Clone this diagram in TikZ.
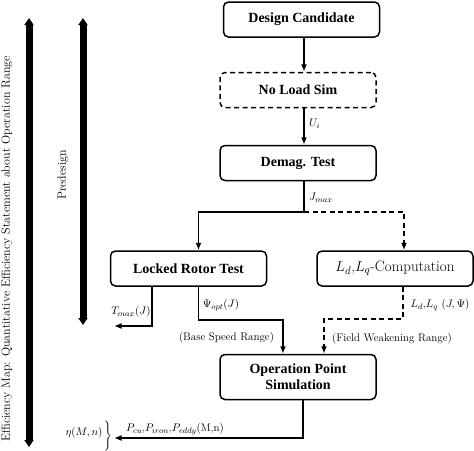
\documentclass[tikz,border=0pt]{standalone}
\usepackage{fontspec}
\newfontfamily\boxfont{Liberation Serif}
\usetikzlibrary{arrows.meta}
\tikzset{
  box/.style={draw, line width=1.5pt, rounded corners=5pt, minimum width=156pt, minimum height=35pt, inner sep=0pt, font=\boxfont\bfseries\fontsize{14}{16}\selectfont, align=center},
  dbox/.style={box, dash pattern=on 5pt off 3.5pt},
  arr/.style={line width=1.5pt, -{Latex[length=7.5pt,width=6pt]}},
  con/.style={line width=1.5pt},
  dcon/.style={line width=1.5pt, dash pattern=on 5pt off 3.5pt},
  lab/.style={font=\fontsize{11}{13}\selectfont, inner sep=0pt},
  bigarr/.style={line width=7pt, {Triangle[width=9pt,length=7pt]}-{Triangle[width=9pt,length=7pt]}},
  side/.style={font=\fontsize{12}{14}\selectfont, rotate=90, inner sep=0pt}
}
\begin{document}
\begin{tikzpicture}[x=1pt,y=-1pt]
\useasboundingbox (0,0) rectangle (474,450);
% boxes
\node[box] (dc) at (301.5,19.5) {Design Candidate};
\node[dbox] (nls) at (298,90) {No Load Sim};
\node[box] (dt) at (298,163) {Demag. Test};
\node[box] (lrt) at (188.5,268.5) {Locked Rotor Test};
\node[box, font=\fontsize{15}{17}\selectfont] (ldq) at (395,268.5) {$L_d$,$L_q$-Computation};
\node[box, minimum height=45pt] (ops) at (298,377) {Operation Point\\Simulation};
% helper coordinates
\coordinate (xm) at (304,0);
\coordinate (split) at (304,212);
\coordinate (xl) at (198.5,0);
\coordinate (xr) at (404,0);
\coordinate (tk) at (152,326);
\coordinate (tend) at (114,326);
\coordinate (pk1) at (198.5,320);
\coordinate (pk2) at (283,320);
\coordinate (dk1) at (403,319);
\coordinate (dk2) at (324,319);
\coordinate (ok) at (303,438);
\coordinate (oend) at (114,438);
% connectors
\draw[arr] (dc.south -| xm) -- (nls.north -| xm);
\draw[arr] (nls.south -| xm) -- (dt.north -| xm);
\draw[con] (dt.south -| xm) -- (split);
\draw[arr] (split) -- (split -| xl) -- (lrt.north -| xl);
\draw[dcon, -{Latex[length=7.5pt,width=6pt]}] (split) -- (split -| xr) -- (ldq.north -| xr);
\draw[arr] (lrt.south -| tk) -- (tk) -- (tend);
\draw[arr] (lrt.south -| pk1) -- (pk1) -- (pk2) -- (ops.north -| pk2);
\draw[dcon, -{Latex[length=7.5pt,width=6pt]}] (ldq.south -| dk1) -- (dk1) -- (dk2) -- (ops.north -| dk2);
\draw[arr] (ops.south -| ok) -- (ok) -- (oend);
% labels
\node[lab, anchor=west] (lu) at (309,124) {$U_i$};
\node[lab, anchor=west] (lj) at (309,198) {$J_{max}$};
\node[lab] (lt) at (131,312) {$T_{max}(J)$};
\node[lab] (lp) at (221,305) {$\Psi_{opt}(J)$};
\node[lab] (lb) at (226.5,338) {(Base Speed Range)};
\node[lab] (ll) at (440,305) {$L_d$,$L_q$ $(J,\Psi)$};
\node[lab] (lf) at (392,339) {(Field Weakening Range)};
\node[lab] (lpc) at (175,429) {$P_{cu}$,$P_{iron}$,$P_{eddy}$(M,n)};
\node[lab] (leta) at (84,433) {$\eta(M,n)$};
\node[lab] (lbr) at (108,436) {$\Bigg\}$};
% side arrows
\draw[bigarr] (29,18) -- (29,447);
\draw[bigarr] (83,18) -- (83,325);
\node[side] (s1) at (7,249) {Efficiency Map: Quantitative Efficiency Statement about Operation Range};
\node[side] (s2) at (63,175) {Predesign};
\end{tikzpicture}
\end{document}
